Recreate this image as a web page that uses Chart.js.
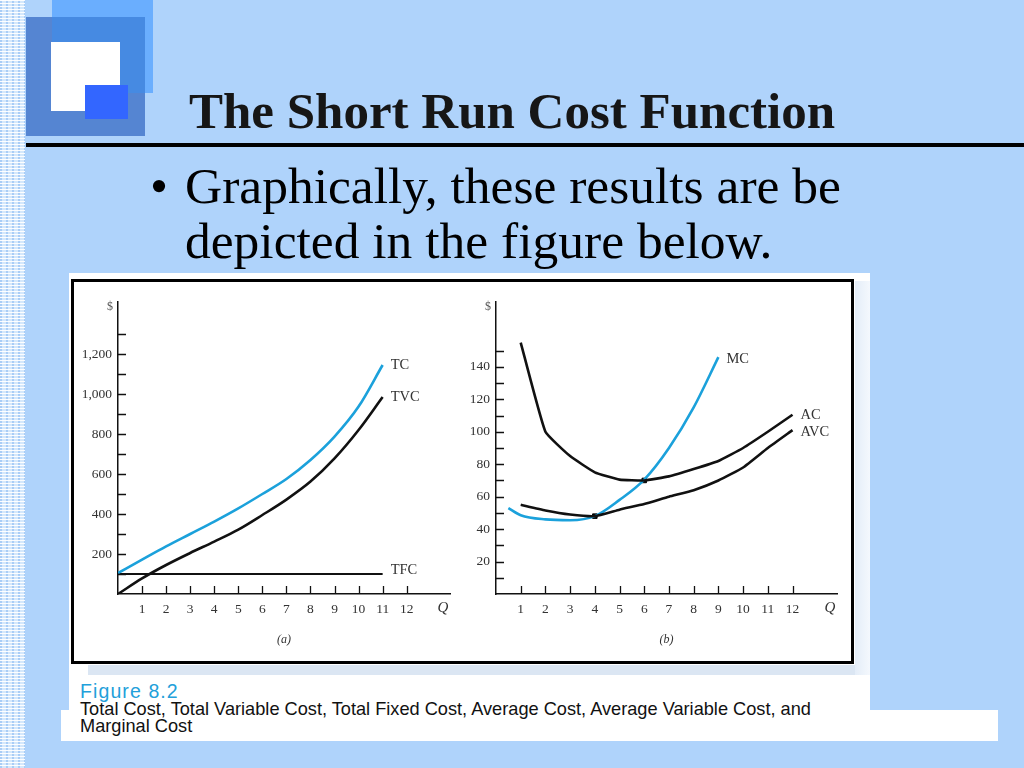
<!DOCTYPE html>
<html>
<head>
<meta charset="utf-8">
<script src="https://cdn.jsdelivr.net/npm/chart.js@4.4.1/dist/chart.umd.min.js"></script>
<style>
  body { margin: 0; width: 1024px; height: 768px; overflow: hidden; position: relative; background: #afd3fb; font-family: "Liberation Serif", serif; }
  .abs { position: absolute; }
  #stripe { left: 0; top: 0; width: 25px; height: 768px; background-color: #d4e8fc;
    background-image: repeating-linear-gradient(180deg, rgba(255,255,255,0.95) 0 1px, transparent 1px 3px),
                      repeating-linear-gradient(90deg, #a9cdf6 0 2px, transparent 2px 6px); }
  #title { left: 0; width: 1024px; top: 86px; text-align: center; font-weight: bold; font-size: 51px; line-height: 51px; color: #161616; }
  #rule { left: 26px; top: 143px; width: 998px; height: 4px; background: #000; }
  #bullet { left: 150px; top: 158px; font-size: 51.5px; line-height: 55px; color: #000; }
  #bullet .dot { position: absolute; left: 0; top: 0; }
  #bullet .txt { position: absolute; left: 35px; top: 0; white-space: nowrap; }
  .chartbox { position: absolute; }
</style>
</head>
<body>
<div id="stripe" class="abs"></div>
<div class="abs" style="left:52px;top:0;width:101px;height:93px;background:#6aaefe"></div>
<div class="abs" style="left:26px;top:17px;width:119px;height:119px;background:#5585d2"></div>
<div class="abs" style="left:52px;top:17px;width:93px;height:76px;background:#468ae2"></div>
<div class="abs" style="left:51px;top:42px;width:69px;height:69px;background:#ffffff"></div>
<div class="abs" style="left:85px;top:85px;width:43px;height:34px;background:#3366ff"></div>

<div id="title" class="abs">The Short Run Cost Function</div>
<div id="rule" class="abs"></div>
<div id="bullet" class="abs">
  <span class="dot">•</span>
  <div class="txt">Graphically, these results are be<br>depicted in the figure below.</div>
</div>

<div class="abs" style="left:69px;top:273px;width:801px;height:437px;background:#ffffff"></div>
<div class="abs" style="left:855px;top:281px;width:15px;height:394px;background:linear-gradient(90deg,#e4edf8,#f4f8fd)"></div>
<div class="abs" style="left:88px;top:665px;width:767px;height:10px;background:#dbe6f3"></div>
<div class="abs" style="left:71px;top:279px;width:777px;height:379px;border:3px solid #000;background:#fff"></div>
<div class="abs" style="left:61px;top:710px;width:937px;height:31px;background:#ffffff"></div>

<div class="abs" style="left:80px;top:681px;font-family:'Liberation Sans',sans-serif;font-size:19.5px;line-height:20px;color:#22a0da;letter-spacing:1.1px">Figure 8.2</div>
<div class="abs" style="left:80px;top:701px;font-family:'Liberation Sans',sans-serif;font-size:18.2px;line-height:16.7px;color:#111;white-space:nowrap">Total Cost, Total Variable Cost, Total Fixed Cost, Average Cost, Average Variable Cost, and<br>Marginal Cost</div>

<div class="chartbox" style="left:74px;top:283px;width:382px;height:376px"><canvas id="chartA"></canvas></div>
<div class="chartbox" style="left:456px;top:283px;width:396px;height:376px"><canvas id="chartB"></canvas></div>

<script>
// panel (a): total cost curves
const qA = [0, 1, 2, 3, 4, 5, 6, 7, 8, 9, 10, 11];
const tc = [105, 172, 238, 300, 362, 428, 500, 575, 670, 787, 937, 1145];
const tvc = [0, 78, 145, 205, 262, 322, 395, 472, 562, 678, 820, 985];
const tfc = [100, 100, 100, 100, 100, 100, 100, 100, 100, 100, 100, 100];
const yTicksA = [100, 200, 300, 400, 500, 600, 700, 800, 900, 1000, 1100, 1200, 1300];
const yLabelsA = [200, 400, 600, 800, 1000, 1200];

// panel (b): average and marginal cost curves
const qB = [1, 2, 3, 4, 5, 6, 7, 8, 9, 10, 11, 12];
const ac = [155, 100, 85, 75, 70.5, 70, 72.5, 77, 82, 90, 100, 110.5];
const avc = [55, 51.5, 49, 48, 52, 55.5, 60, 64, 70, 78, 90, 101];
const qMC = [0.5, 1, 2, 3, 4, 5, 6, 7, 8, 9];
const mc = [53, 48.6, 46, 45.5, 48, 58, 70.5, 90, 115, 146];
const qDots = [4, 6];
const yDots = [48, 70];
const yTicksB = [10, 20, 30, 40, 50, 60, 70, 80, 90, 100, 110, 120, 130, 140, 150];
const yLabelsB = [20, 40, 60, 80, 100, 120, 140];

const qTicks = [1, 2, 3, 4, 5, 6, 7, 8, 9, 10, 11, 12];

const BLUE = '#1ba1db';
const INK = '#111111';
const TXT = '#333333';

function pts(xs, ys) {
    return xs.map((x, i) => ({x: x, y: ys[i]}));
}

const decor = {
    id: 'decor',
    afterDatasetsDraw(chart, args, opts) {
        const ctx = chart.ctx;
        const a = chart.chartArea;
        const x = chart.scales.x;
        const y = chart.scales.y;
        ctx.save();
        // tick marks pointing into the plot
        ctx.strokeStyle = INK;
        ctx.lineWidth = 1.3;
        ctx.beginPath();
        x.ticks.forEach(t => {
            const px = Math.round(x.getPixelForValue(t.value)) + 0.5;
            ctx.moveTo(px, a.bottom);
            ctx.lineTo(px, a.bottom - 8);
        });
        y.ticks.forEach(t => {
            const py = Math.round(y.getPixelForValue(t.value)) + 0.5;
            ctx.moveTo(a.left, py);
            ctx.lineTo(a.left + 8, py);
        });
        ctx.stroke();

        // curve names at the end of each curve
        ctx.fillStyle = TXT;
        ctx.font = '14.5px "Liberation Serif"';
        ctx.textBaseline = 'middle';
        ctx.textAlign = 'left';
        opts.names.forEach((n, i) => {
            if (!n) return;
            const els = chart.getDatasetMeta(i).data;
            const p = els[els.length - 1];
            ctx.fillText(n, p.x + 8, p.y + (opts.dy[i] || 0));
        });

        ctx.font = '12px "Liberation Serif"';
        ctx.fillStyle = '#555';
        ctx.textAlign = 'right';
        ctx.fillText('$', a.left - 5, a.top + 5);

        ctx.font = 'italic 15px "Liberation Serif"';
        ctx.fillStyle = TXT;
        ctx.textAlign = 'center';
        ctx.fillText('Q', a.right - 7, a.bottom + 14);

        ctx.font = 'italic 12px "Liberation Serif"';
        ctx.fillText(opts.tag, (a.left + a.right) / 2, a.bottom + 46);
        ctx.restore();
    }
};

function makeChart(id, datasets, o) {
    return new Chart(document.getElementById(id), {
        type: 'line',
        data: {datasets: datasets},
        plugins: [decor],
        options: {
            responsive: true,
            maintainAspectRatio: false,
            animation: false,
            layout: {padding: {top: 19, right: o.right, left: 0, bottom: 0}},
            plugins: {
                legend: {display: false},
                tooltip: {enabled: false},
                decor: {names: o.names, dy: o.dy, tag: o.tag}
            },
            scales: {
                x: {
                    type: 'linear',
                    min: 0,
                    max: 13.8,
                    afterBuildTicks: s => { s.ticks = qTicks.map(v => ({value: v})); },
                    afterFit: s => { s.height = 65; },
                    grid: {drawOnChartArea: false, drawTicks: false},
                    border: {color: INK, width: 1.5},
                    ticks: {
                        color: TXT,
                        padding: 7,
                        autoSkip: false,
                        maxRotation: 0,
                        font: {family: 'Liberation Serif', size: 13.5}
                    }
                },
                y: {
                    type: 'linear',
                    min: 0,
                    max: o.ymax,
                    afterBuildTicks: s => { s.ticks = o.yTicks.map(v => ({value: v})); },
                    afterFit: s => { s.width = o.yw; },
                    grid: {drawOnChartArea: false, drawTicks: false},
                    border: {color: INK, width: 1.5},
                    ticks: {
                        color: TXT,
                        padding: 6,
                        font: {family: 'Liberation Serif', size: 13.5},
                        callback: v => o.yLabels.includes(v) ? v.toLocaleString('en-US') : ''
                    }
                }
            }
        }
    });
}

const line = (data, color, width, mode, tension) => ({
    data: data,
    borderColor: color,
    borderWidth: width,
    pointRadius: 0,
    fill: false,
    cubicInterpolationMode: mode || 'monotone',
    tension: tension || 0
});

makeChart('chartA', [
    line(pts(qA, tc), BLUE, 2.6),
    line(pts(qA, tvc), INK, 2.6),
    line(pts(qA, tfc), INK, 2)
], {names: ['TC', 'TVC', 'TFC'], dy: [0, 0, -4], tag: '(a)', ymax: 1460, yTicks: yTicksA, yLabels: yLabelsA, yw: 44, right: 6});

makeChart('chartB', [
    line(pts(qB, ac), INK, 2.6, 'default', 0.12),
    line(pts(qB, avc), INK, 2.6, 'default', 0.15),
    line(pts(qMC, mc), BLUE, 2.6),
    {
        data: pts(qDots, yDots),
        showLine: false,
        pointStyle: 'rect',
        pointRadius: 3.2,
        backgroundColor: '#000',
        borderColor: '#000'
    }
], {names: ['AC', 'AVC', 'MC', ''], dy: [0, 2, 2, 0], tag: '(b)', ymax: 180, yTicks: yTicksB, yLabels: yLabelsB, yw: 40, right: 15});
</script>
</body>
</html>
